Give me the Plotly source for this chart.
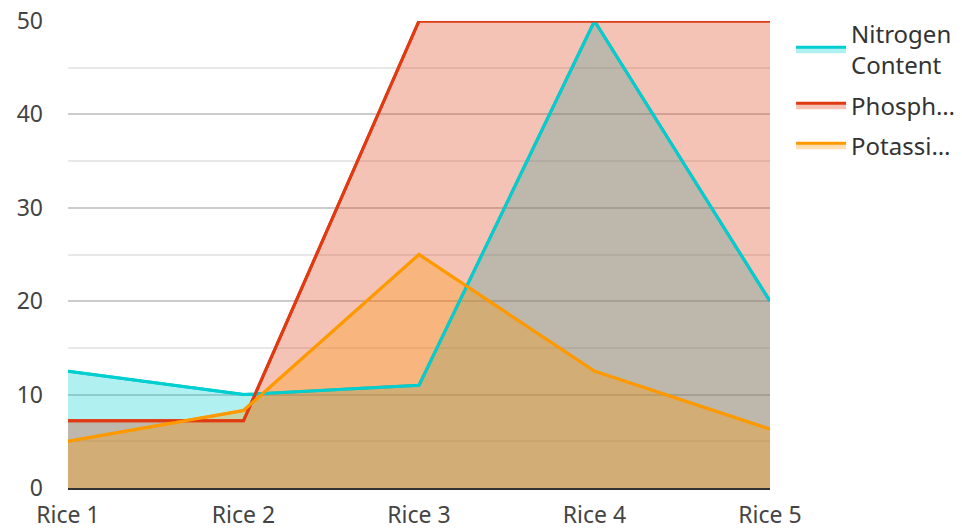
import plotly.graph_objects as go

categories = ["Rice 1", "Rice 2", "Rice 3", "Rice 4", "Rice 5"]
nitrogen = [12.5, 10, 11, 50, 20]
phosphorus = [7.2, 7.2, 50, 50, 50]
potassium = [5, 8.3, 25, 12.5, 6.3]
names = ["Nitrogen<br>Content", "Phosph…", "Potassi…"]
line_colors = ["rgb(0,206,209)", "rgb(224,58,18)", "rgb(255,153,0)"]
fill_colors = ["rgba(0,206,209,0.31)", "rgba(224,58,18,0.31)", "rgba(255,153,0,0.31)"]

series = [nitrogen, phosphorus, potassium]

fig = go.Figure()
# filled areas (with legend entries)
for i, (vals, name, lc, fc) in enumerate(zip(series, names, line_colors, fill_colors)):
    fig.add_trace(go.Scatter(
        x=categories, y=vals, name=name, mode="lines", legendgroup=f"g{i}",
        line=dict(color=lc, width=3), fill="tozeroy", fillcolor=fc,
        hoverinfo="skip"))
# lines drawn on top of all fills
for i, (vals, name, lc) in enumerate(zip(series, names, line_colors)):
    fig.add_trace(go.Scatter(
        x=categories, y=vals, name=name, mode="lines", legendgroup=f"g{i}",
        line=dict(color=lc, width=3), showlegend=False,
        hoverinfo="x+y+name"))

# page body has an 8px margin, so the figure is sized/placed to compensate
fig.update_layout(
    width=954, height=521,
    margin=dict(l=60, r=192, t=13, b=41, autoexpand=False),
    paper_bgcolor="white", plot_bgcolor="white",
    font=dict(family="Noto Sans", size=24, color="#444444"),
    showlegend=True,
    legend=dict(x=1.03, y=1.02, xanchor="left", yanchor="top",
                font=dict(size=24, color="#333333"), itemwidth=50,
                tracegroupgap=6),
    xaxis=dict(type="category", range=[0, 4], showgrid=False,
               showline=True, linecolor="#333333", linewidth=2,
               ticks="", ticklabelstandoff=5, ticklabeloverflow="allow",
               tickfont=dict(size=23, color="#444444"),
               zeroline=False, fixedrange=True),
    yaxis=dict(range=[0, 50], dtick=10, showgrid=True, gridcolor="#cccccc",
               gridwidth=1.5, zeroline=False, showline=False, ticks="",
               ticklabelstandoff=24, ticklabeloverflow="allow",
               tickfont=dict(size=23, color="#444444"),
               minor=dict(dtick=5, showgrid=True, gridcolor="#e8e8e8", gridwidth=1.5),
               fixedrange=True),
)

fig.write_html("out.html")
